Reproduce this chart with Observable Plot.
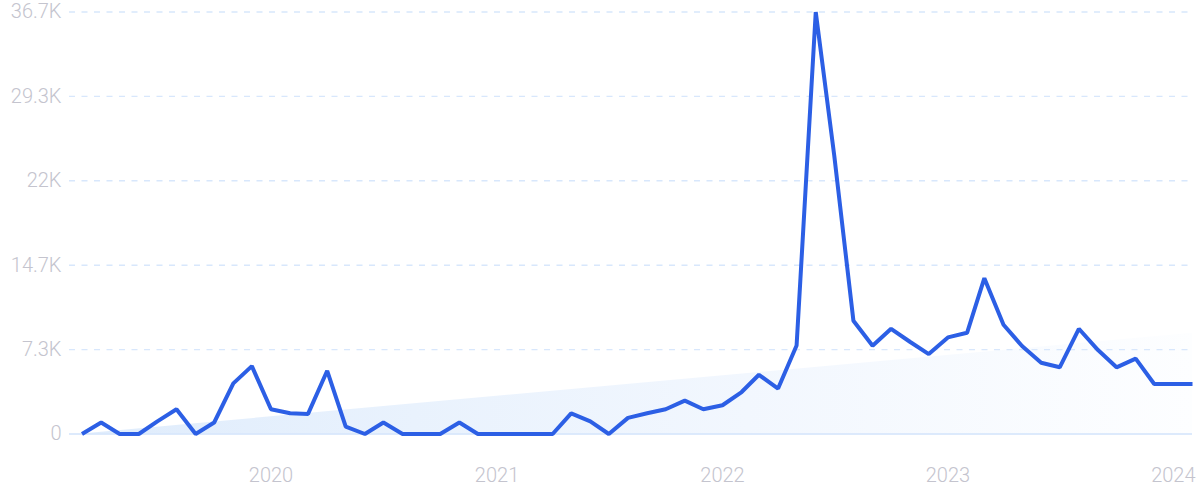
<!DOCTYPE html>
<html>
<head>
<meta charset="utf-8">
<style>html,body{margin:0;padding:0;background:#fff;overflow:hidden}svg{display:block}</style>
<script src="https://cdn.jsdelivr.net/npm/d3@7"></script>
<script src="https://cdn.jsdelivr.net/npm/@observablehq/plot@0.6"></script>
</head>
<body>
<div id="chart"></div>
<script>
const startYear = 2019, startMonth = 2;
const values = [
  0,1000,0,0,1100,2150,0,1000,4400,5900,
  2150,1800,1750,5500,650,0,1000,0,0,0,1000,0,
  0,0,0,0,1800,1100,0,1400,1800,2150,2900,2150,
  2500,3650,5150,3950,7700,36700,24200,9850,7670,9150,8000,6950,
  8400,8800,13550,9500,7650,6200,5800,9150,7300,5800,6550,4350,
  4350,4350
];
const trendDates = [new Date(Date.UTC(2019,2,1)), new Date(Date.UTC(2024,1,1))];
const trendValues = [0, 8770];
const yTicks = [0,7340,14680,22020,29360,36700];
const yLabels = ["0","7.3K","14.7K","22K","29.3K","36.7K"];
const xTicks = [2020,2021,2022,2023,2024].map(y => new Date(Date.UTC(y,0,1)));

const series = values.map((v,i) => ({date:new Date(Date.UTC(startYear,startMonth+i,1)), value:v}));
const trend = trendDates.map((d,i) => ({date:d, value:trendValues[i]}));

const gradient = () => {
  const ns = "http://www.w3.org/2000/svg";
  const defs = document.createElementNS(ns,"defs");
  const g = document.createElementNS(ns,"linearGradient");
  g.setAttribute("id","trendFill");
  g.setAttribute("x1","0");g.setAttribute("y1","0");g.setAttribute("x2","1");g.setAttribute("y2","0");
  [["0%","#dfecfc"],["30%","#e9f2fd"],["60%","#f2f7fe"],["100%","#fdfeff"]].forEach(([o,c])=>{
    const s = document.createElementNS(ns,"stop");
    s.setAttribute("offset",o);s.setAttribute("stop-color",c);g.appendChild(s);
  });
  defs.appendChild(g);
  return defs;
};

const labelFont = {fontSize:20, fontWeight:300, color:"#c4c4ce"};
const plot = Plot.plot({
  width:1200, height:499,
  marginLeft:69, marginRight:8, marginTop:11, marginBottom:32,
  style:{fontFamily:"Roboto, sans-serif", background:"#fff", overflow:"visible"},
  x:{type:"utc", domain:[series[0].date, series[series.length-1].date], range:[81.5,1192]},
  y:{domain:[0,36700], range:[433.5,11.5]},
  marks:[
    gradient,
    Plot.areaY(trend,{x:"date",y:"value",fill:"url(#trendFill)"}),
    Plot.ruleY(yTicks.slice(1),{stroke:"#d8e7fc",strokeWidth:1.4,strokeDasharray:"6,6.5"}),
    Plot.ruleY([0],{stroke:"#d2e3fb",strokeWidth:1.5}),
    Plot.lineY(series,{x:"date",y:"value",stroke:"#2c5fe5",strokeWidth:4,strokeLinejoin:"miter",strokeLinecap:"butt"}),
    Plot.axisY({ticks:yTicks,tickFormat:d=>yLabels[yTicks.indexOf(d)],tickSize:0,tickPadding:8,label:null,...labelFont}),
    Plot.axisX({ticks:xTicks,tickFormat:d=>String(d.getUTCFullYear()),tickSize:0,tickPadding:0,label:null,...labelFont})
  ]
});
document.getElementById("chart").appendChild(plot);
</script>
</body>
</html>
